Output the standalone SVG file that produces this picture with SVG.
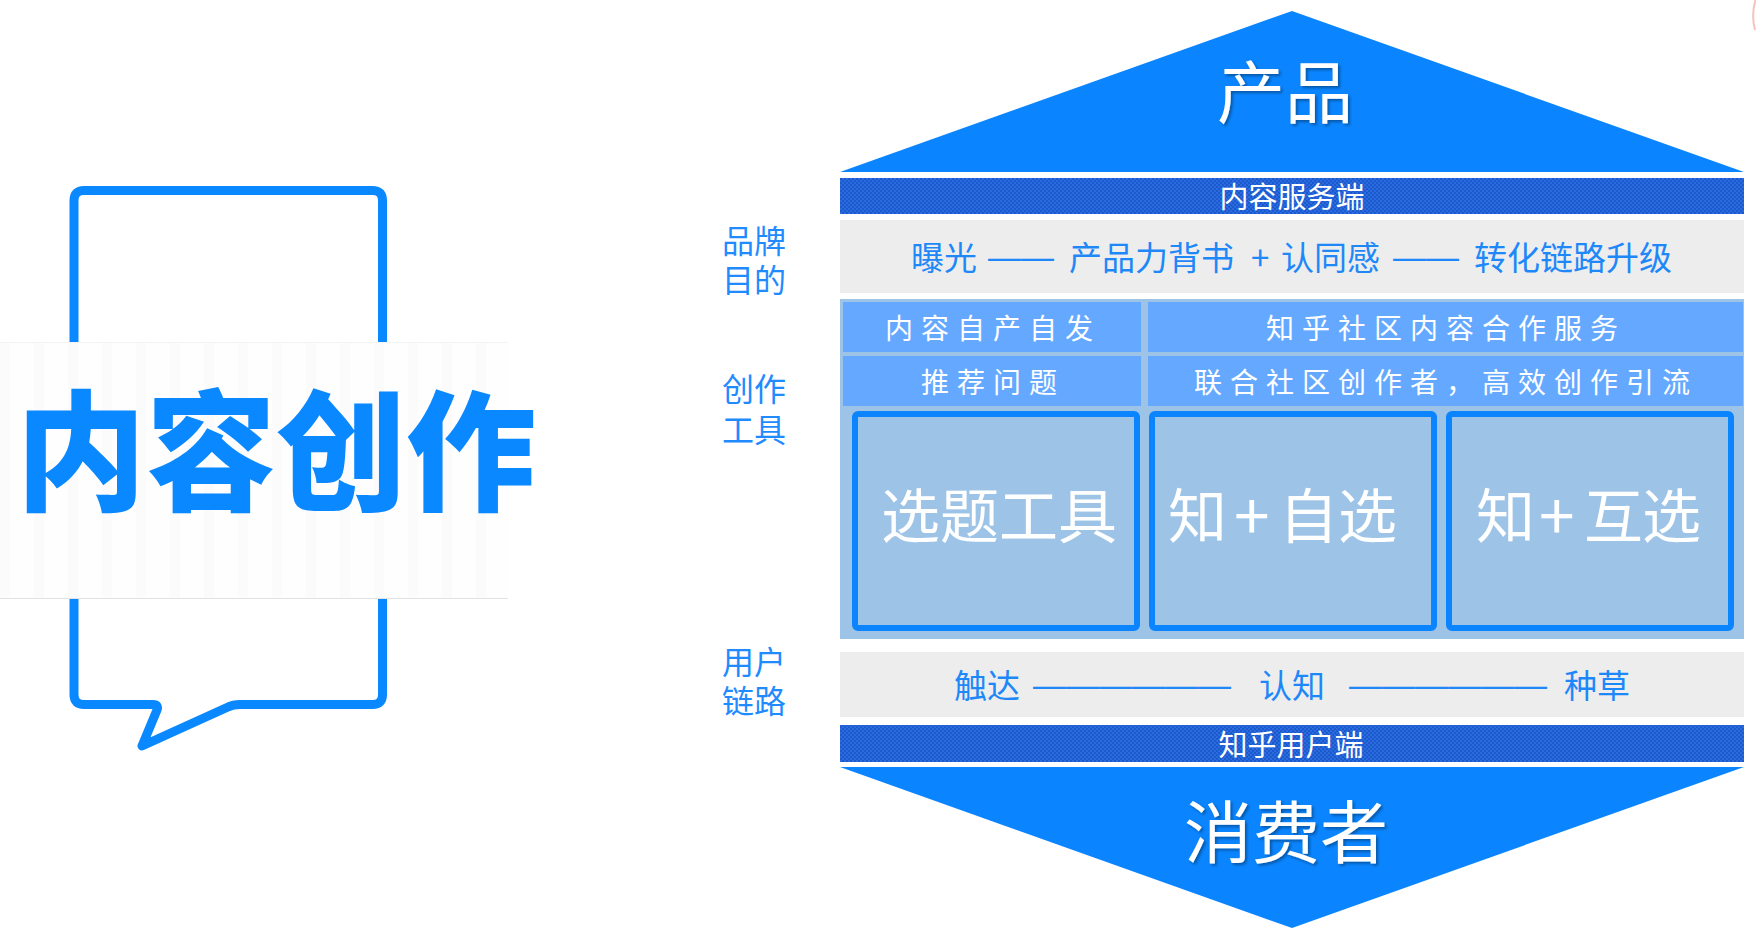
<svg xmlns="http://www.w3.org/2000/svg" width="1756" height="948" viewBox="0 0 1756 948">
  <defs>
    <style>
      text { font-family: "Noto Sans CJK SC", "Noto Sans", sans-serif; }
      .blue { fill: #0a85ff; }
      .lbl { fill: #1f8bff; font-size: 32px; text-anchor: middle; }
      .cell { fill: #64a9ff; }
      .celltx { fill: #ffffff; font-size: 28px; letter-spacing: 8px; text-anchor: middle; dominant-baseline: central; }
      .grey { fill: #ededed; }
      .greytx { fill: #1f88f8; font-size: 33px; dominant-baseline: central; }
      .dash { font-family: "Liberation Sans", Arial, sans-serif; }
      .box { fill: #9dc3e6; stroke: #0a84ff; stroke-width: 6; }
      .boxtx { fill: #ffffff; font-size: 59px; dominant-baseline: central; }
      .bandtx { fill: #ffffff; font-size: 29px; text-anchor: middle; dominant-baseline: central; }
      .bigtx { fill: #ffffff; font-size: 68px; text-anchor: middle; dominant-baseline: central; }
    </style>
    <pattern id="weave" width="4" height="4" patternUnits="userSpaceOnUse">
      <rect width="4" height="4" fill="#1b59cc"/>
      <rect width="2" height="2" fill="#2a6be0"/>
      <rect x="2" y="2" width="2" height="2" fill="#2a6be0"/>
    </pattern>
    <pattern id="stripes" width="34" height="10" patternUnits="userSpaceOnUse">
      <rect width="34" height="10" fill="#fefefe"/>
      <rect x="0" width="10" height="10" fill="#fbfbfb"/>
    </pattern>
    <filter id="shadow" x="-20%" y="-20%" width="140%" height="140%">
      <feDropShadow dx="2" dy="2" stdDeviation="1.5" flood-color="#000" flood-opacity="0.35"/>
    </filter>
  </defs>

  <rect width="1756" height="948" fill="#ffffff"/>

  <!-- Left: speech bubble with title -->
  <g id="bubble">
    <path d="M84,190.5 H372.5 Q382.5,190.5 382.5,200.5 V694.5 Q382.5,704.5 372.5,704.5 H240 Q233,704.5 228,707 L142,746 L157,710 Q159,704.5 153,704.5 H84 Q74,704.5 74,694.5 V200.5 Q74,190.5 84,190.5 Z" fill="none" stroke="#0a88ff" stroke-width="9" stroke-linejoin="round"/>
  </g>
  <g id="title-band">
    <rect x="0" y="342" width="508" height="256" fill="url(#stripes)"/>
    <line x1="0" y1="342.5" x2="508" y2="342.5" stroke="#f3f3f3" stroke-width="1"/>
    <line x1="0" y1="598.5" x2="508" y2="598.5" stroke="#e2e2e2" stroke-width="1"/>
    <text x="16" y="500" fill="#0a88ff" font-size="130" font-weight="900">内容创作</text>
  </g>

  <!-- Side labels -->
  <g id="label-brand">
    <text class="lbl" x="754" y="253"><tspan x="754">品牌</tspan><tspan x="754" dy="39">目的</tspan></text>
  </g>
  <g id="label-tools">
    <text class="lbl" x="754" y="401"><tspan x="754">创作</tspan><tspan x="754" dy="41">工具</tspan></text>
  </g>
  <g id="label-user">
    <text class="lbl" x="754" y="674"><tspan x="754">用户</tspan><tspan x="754" dy="39">链路</tspan></text>
  </g>

  <!-- Right: product triangle -->
  <g id="product">
    <polygon class="blue" points="840,172 1292,11 1744,172"/>
    <text class="bigtx" x="1285" y="88" filter="url(#shadow)">产品</text>
  </g>
  <g id="service-band">
    <rect x="840" y="178" width="904" height="36" fill="url(#weave)"/>
    <text class="bandtx" x="1292" y="195">内容服务端</text>
  </g>
  <g id="brand-goal">
    <rect class="grey" x="840" y="220" width="904" height="73"/>
    <text class="greytx" y="256"><tspan x="911">曝光 </tspan><tspan class="dash" x="988">—— </tspan><tspan x="1069">产品力背书 </tspan><tspan x="1251">+ </tspan><tspan x="1281">认同感 </tspan><tspan class="dash" x="1393">—— </tspan><tspan x="1474">转化链路升级</tspan></text>
  </g>

  <g id="tools-panel">
    <rect x="840" y="299" width="904" height="340" fill="#9dc3e6"/>
  </g>
  <g id="cell-self">
    <rect class="cell" x="843" y="302" width="298" height="50"/>
    <text class="celltx" x="993" y="327">内容自产自发</text>
  </g>
  <g id="cell-zhihu">
    <rect class="cell" x="1148" y="302" width="595" height="50"/>
    <text class="celltx" x="1446" y="327">知乎社区内容合作服务</text>
  </g>
  <g id="cell-recommend">
    <rect class="cell" x="843" y="356" width="298" height="50"/>
    <text class="celltx" x="993" y="381">推荐问题</text>
  </g>
  <g id="cell-creators">
    <rect class="cell" x="1148" y="356" width="595" height="50"/>
    <text class="celltx" x="1446" y="381">联合社区创作者，高效创作引流</text>
  </g>
  <g id="box-topic">
    <rect class="box" x="855" y="414" width="282" height="214" rx="3"/>
    <text class="boxtx" x="999" y="512" text-anchor="middle">选题工具</text>
  </g>
  <g id="box-self-select">
    <rect class="box" x="1152" y="414" width="282" height="214" rx="3"/>
    <text class="boxtx" y="512"><tspan x="1168">知</tspan><tspan x="1234" font-size="64">+</tspan><tspan x="1279">自</tspan><tspan x="1338">选</tspan></text>
  </g>
  <g id="box-mutual-select">
    <rect class="box" x="1449" y="414" width="282" height="214" rx="3"/>
    <text class="boxtx" y="512"><tspan x="1476">知</tspan><tspan x="1539" font-size="64">+</tspan><tspan x="1584">互</tspan><tspan x="1642">选</tspan></text>
  </g>

  <g id="user-path">
    <rect class="grey" x="840" y="652" width="904" height="65"/>
    <text class="greytx" y="684"><tspan x="954">触达 </tspan><tspan class="dash" x="1033">—————— </tspan><tspan x="1259">认知 </tspan><tspan class="dash" x="1349">—————— </tspan><tspan x="1564">种草</tspan></text>
  </g>
  <g id="user-band">
    <rect x="840" y="725" width="904" height="37" fill="url(#weave)"/>
    <text class="bandtx" x="1291" y="743">知乎用户端</text>
  </g>
  <g id="consumer">
    <polygon class="blue" points="840,767 1744,767 1292,928"/>
    <text class="bigtx" x="1286" y="828" filter="url(#shadow)">消费者</text>
  </g>

  <g id="connectors"></g>

  <path d="M1755.5,0 Q1751,15 1755,30" fill="none" stroke="#f6c2be" stroke-width="2"/>
</svg>
